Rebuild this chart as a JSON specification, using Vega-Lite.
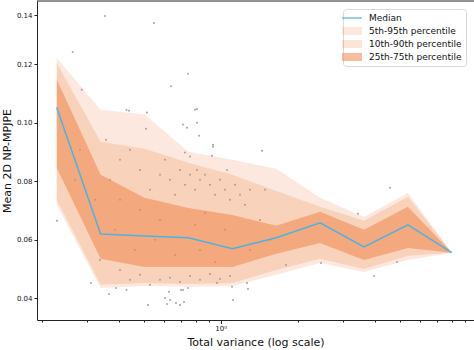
{
  "$schema": "https://vega.github.io/schema/vega-lite/v6.json",
  "width": 437,
  "height": 319,
  "autosize": {"type": "none"},
  "padding": {"left": 37, "top": 1, "right": 0, "bottom": 30},
  "background": "white",
  "config": {
    "view": {"stroke": null},
    "font": "DejaVu Sans",
    "axis": {"grid": false, "domainColor": "#222", "tickColor": "#222", "labelColor": "#111", "titleColor": "#111", "labelFont": "DejaVu Sans", "titleFont": "DejaVu Sans", "titleFontWeight": "normal"}
  },
  "datasets": {
    "points": [
      {"variance": 0.3532, "mpjpe": 0.1396}, {"variance": 0.5488, "mpjpe": 0.1368}, {"variance": 0.2642, "mpjpe": 0.1250},
      {"variance": 0.2864, "mpjpe": 0.1113}, {"variance": 0.4383, "mpjpe": 0.1041}, {"variance": 0.4285, "mpjpe": 0.1045},
      {"variance": 0.515, "mpjpe": 0.1035}, {"variance": 0.3565, "mpjpe": 0.0942}, {"variance": 0.5108, "mpjpe": 0.0980},
      {"variance": 0.2293, "mpjpe": 0.0665}, {"variance": 0.3113, "mpjpe": 0.0452}, {"variance": 0.3662, "mpjpe": 0.0415},
      {"variance": 0.3899, "mpjpe": 0.0435}, {"variance": 0.4285, "mpjpe": 0.0428}, {"variance": 0.52, "mpjpe": 0.0377},
      {"variance": 0.7453, "mpjpe": 0.1168}, {"variance": 0.6395, "mpjpe": 0.1125}, {"variance": 0.7937, "mpjpe": 0.1045},
      {"variance": 0.8081, "mpjpe": 0.1047}, {"variance": 0.7124, "mpjpe": 0.0994}, {"variance": 0.738, "mpjpe": 0.0983},
      {"variance": 0.8081, "mpjpe": 0.1000}, {"variance": 0.8228, "mpjpe": 0.0956}, {"variance": 0.9331, "mpjpe": 0.0925},
      {"variance": 0.9331, "mpjpe": 0.0918}, {"variance": 0.9247, "mpjpe": 0.0887}, {"variance": 1.45, "mpjpe": 0.0904},
      {"variance": 0.7253, "mpjpe": 0.0898}, {"variance": 0.7588, "mpjpe": 0.0885}, {"variance": 0.8081, "mpjpe": 0.0839},
      {"variance": 1.0583, "mpjpe": 0.0839}, {"variance": 0.6059, "mpjpe": 0.0401}, {"variance": 0.6169, "mpjpe": 0.0380},
      {"variance": 0.6339, "mpjpe": 0.0394}, {"variance": 0.6688, "mpjpe": 0.0384}, {"variance": 0.6934, "mpjpe": 0.0377},
      {"variance": 0.7188, "mpjpe": 0.0387}, {"variance": 0.6998, "mpjpe": 0.0428}, {"variance": 0.6281, "mpjpe": 0.0422},
      {"variance": 1.117, "mpjpe": 0.0394}, {"variance": 1.1069, "mpjpe": 0.0439}, {"variance": 1.2667, "mpjpe": 0.0452},
      {"variance": 1.278, "mpjpe": 0.0432}, {"variance": 1.7992, "mpjpe": 0.0514}, {"variance": 2.4651, "mpjpe": 0.0521},
      {"variance": 3.9701, "mpjpe": 0.0476}, {"variance": 4.8831, "mpjpe": 0.0524}, {"variance": 4.5847, "mpjpe": 0.0778},
      {"variance": 3.4392, "mpjpe": 0.0689}, {"variance": 0.9672, "mpjpe": 0.0452}, {"variance": 0.7453, "mpjpe": 0.0435},
      {"variance": 0.7124, "mpjpe": 0.0428},
      {"variance": 0.3228, "mpjpe": 0.0737}, {"variance": 0.3695, "mpjpe": 0.0805}, {"variance": 0.4042, "mpjpe": 0.0874},
      {"variance": 0.4420, "mpjpe": 0.0908}, {"variance": 0.4839, "mpjpe": 0.0839}, {"variance": 0.5293, "mpjpe": 0.0771},
      {"variance": 0.5792, "mpjpe": 0.0822}, {"variance": 0.6059, "mpjpe": 0.0874}, {"variance": 0.6339, "mpjpe": 0.0805},
      {"variance": 0.6630, "mpjpe": 0.0754}, {"variance": 0.6934, "mpjpe": 0.0839}, {"variance": 0.7253, "mpjpe": 0.0788},
      {"variance": 0.7588, "mpjpe": 0.0822}, {"variance": 0.7937, "mpjpe": 0.0771}, {"variance": 0.8301, "mpjpe": 0.0805},
      {"variance": 0.8686, "mpjpe": 0.0822}, {"variance": 0.9083, "mpjpe": 0.0788}, {"variance": 0.9500, "mpjpe": 0.0754},
      {"variance": 0.9938, "mpjpe": 0.0805}, {"variance": 1.0394, "mpjpe": 0.0771}, {"variance": 1.0872, "mpjpe": 0.0737},
      {"variance": 1.1373, "mpjpe": 0.0788}, {"variance": 1.1897, "mpjpe": 0.0754}, {"variance": 1.2444, "mpjpe": 0.0720},
      {"variance": 1.3017, "mpjpe": 0.0771}, {"variance": 0.4042, "mpjpe": 0.0497}, {"variance": 0.4420, "mpjpe": 0.0463},
      {"variance": 0.4839, "mpjpe": 0.0480}, {"variance": 0.5293, "mpjpe": 0.0446}, {"variance": 0.5792, "mpjpe": 0.0463},
      {"variance": 0.6339, "mpjpe": 0.0470}, {"variance": 0.6934, "mpjpe": 0.0456}, {"variance": 0.7588, "mpjpe": 0.0476},
      {"variance": 0.8301, "mpjpe": 0.0463}, {"variance": 0.9083, "mpjpe": 0.0483}, {"variance": 0.9938, "mpjpe": 0.0466},
      {"variance": 1.0872, "mpjpe": 0.0476}, {"variance": 0.3864, "mpjpe": 0.0634}, {"variance": 0.4623, "mpjpe": 0.0565},
      {"variance": 0.5537, "mpjpe": 0.0600}, {"variance": 0.6630, "mpjpe": 0.0548}, {"variance": 0.7937, "mpjpe": 0.0651},
      {"variance": 0.9500, "mpjpe": 0.0524}, {"variance": 0.5792, "mpjpe": 0.0668}, {"variance": 0.4839, "mpjpe": 0.0702},
      {"variance": 0.8301, "mpjpe": 0.0565}, {"variance": 0.8686, "mpjpe": 0.0692}, {"variance": 1.0394, "mpjpe": 0.0634},
      {"variance": 1.3017, "mpjpe": 0.0565}, {"variance": 1.4237, "mpjpe": 0.0668}, {"variance": 1.5577, "mpjpe": 0.0600},
      {"variance": 1.4894, "mpjpe": 0.0771}, {"variance": 0.3377, "mpjpe": 0.0531}, {"variance": 0.2821, "mpjpe": 0.0908},
      {"variance": 0.2697, "mpjpe": 0.0805}, {"variance": 0.4042, "mpjpe": 0.0737}
    ],
    "bands": [
      {"series": "5th-95th percentile", "variance": 0.2288, "lo": 0.0720, "hi": 0.1226},
      {"series": "5th-95th percentile", "variance": 0.3396, "lo": 0.0435, "hi": 0.1045},
      {"series": "5th-95th percentile", "variance": 0.5040, "lo": 0.0442, "hi": 0.1028},
      {"series": "5th-95th percentile", "variance": 0.7478, "lo": 0.0439, "hi": 0.0901},
      {"series": "5th-95th percentile", "variance": 1.110, "lo": 0.0442, "hi": 0.0874},
      {"series": "5th-95th percentile", "variance": 1.648, "lo": 0.0480, "hi": 0.0843},
      {"series": "5th-95th percentile", "variance": 2.445, "lo": 0.0521, "hi": 0.0744},
      {"series": "5th-95th percentile", "variance": 3.629, "lo": 0.0490, "hi": 0.0678},
      {"series": "5th-95th percentile", "variance": 5.387, "lo": 0.0531, "hi": 0.0761},
      {"series": "5th-95th percentile", "variance": 7.995, "lo": 0.0556, "hi": 0.0556},
      {"series": "10th-90th percentile", "variance": 0.2288, "lo": 0.0737, "hi": 0.1205},
      {"series": "10th-90th percentile", "variance": 0.3396, "lo": 0.0446, "hi": 0.0935},
      {"series": "10th-90th percentile", "variance": 0.5040, "lo": 0.0452, "hi": 0.0911},
      {"series": "10th-90th percentile", "variance": 0.7478, "lo": 0.0449, "hi": 0.0863},
      {"series": "10th-90th percentile", "variance": 1.110, "lo": 0.0452, "hi": 0.0822},
      {"series": "10th-90th percentile", "variance": 1.648, "lo": 0.0497, "hi": 0.0767},
      {"series": "10th-90th percentile", "variance": 2.445, "lo": 0.0535, "hi": 0.0713},
      {"series": "10th-90th percentile", "variance": 3.629, "lo": 0.0500, "hi": 0.0665},
      {"series": "10th-90th percentile", "variance": 5.387, "lo": 0.0545, "hi": 0.0747},
      {"series": "10th-90th percentile", "variance": 7.995, "lo": 0.0556, "hi": 0.0556},
      {"series": "25th-75th percentile", "variance": 0.2288, "lo": 0.0846, "hi": 0.1148},
      {"series": "25th-75th percentile", "variance": 0.3396, "lo": 0.0535, "hi": 0.0822},
      {"series": "25th-75th percentile", "variance": 0.5040, "lo": 0.0507, "hi": 0.0744},
      {"series": "25th-75th percentile", "variance": 0.7478, "lo": 0.0507, "hi": 0.0709},
      {"series": "25th-75th percentile", "variance": 1.110, "lo": 0.0507, "hi": 0.0685},
      {"series": "25th-75th percentile", "variance": 1.648, "lo": 0.0552, "hi": 0.0648},
      {"series": "25th-75th percentile", "variance": 2.445, "lo": 0.0589, "hi": 0.0696},
      {"series": "25th-75th percentile", "variance": 3.629, "lo": 0.0531, "hi": 0.0634},
      {"series": "25th-75th percentile", "variance": 5.387, "lo": 0.0572, "hi": 0.0713},
      {"series": "25th-75th percentile", "variance": 7.995, "lo": 0.0556, "hi": 0.0556}
    ],
    "median": [
      {"variance": 0.2288, "mpjpe": 0.1052},
      {"variance": 0.3396, "mpjpe": 0.0620},
      {"variance": 0.5040, "mpjpe": 0.0613},
      {"variance": 0.7478, "mpjpe": 0.0607},
      {"variance": 1.110, "mpjpe": 0.0569},
      {"variance": 1.648, "mpjpe": 0.0607},
      {"variance": 2.445, "mpjpe": 0.0658},
      {"variance": 3.629, "mpjpe": 0.0576},
      {"variance": 5.387, "mpjpe": 0.0651},
      {"variance": 7.995, "mpjpe": 0.0556}
    ]
  },
  "layer": [
    {
      "data": {"name": "points"},
      "mark": {"type": "circle", "size": 4, "color": "#8c8c8c", "opacity": 0.8},
      "encoding": {
        "x": {
          "field": "variance", "type": "quantitative",
          "scale": {"type": "log", "domain": [0.1916, 9.761], "nice": false},
          "axis": {
            "title": "Total variance (log scale)", "titleFontSize": 11, "titlePadding": 5,
            "values": [0.2, 0.3, 0.4, 0.5, 0.6, 0.7, 0.8, 0.9, 1, 2, 3, 4, 5, 6, 7, 8, 9],
            "labelExpr": "datum.value == 1 ? '10⁰' : ''",
            "labelFontSize": 7, "labelPadding": 1, "labelOverlap": false, "labelFlush": false,
            "tickSize": {"condition": {"test": "datum.value == 1", "value": 3.5}, "value": 2}
          }
        },
        "y": {
          "field": "mpjpe", "type": "quantitative",
          "scale": {"domain": [0.03257, 0.12, 0.1457], "range": [319, 63.3, 0], "nice": false, "zero": false},
          "axis": {
            "title": "Mean 2D NP-MPJPE", "titleFontSize": 11, "titlePadding": 4,
            "values": [0.04, 0.06, 0.08, 0.10, 0.12, 0.14], "format": ".2f",
            "labelFontSize": 7, "labelPadding": 2, "tickSize": 3
          }
        }
      }
    },
    {
      "data": {"name": "bands"},
      "mark": {"type": "area", "opacity": 1},
      "encoding": {
        "x": {"field": "variance", "type": "quantitative"},
        "y": {"field": "lo", "type": "quantitative", "stack": null},
        "y2": {"field": "hi"},
        "color": {
          "field": "series", "type": "nominal",
          "scale": {
            "domain": ["Median", "5th-95th percentile", "10th-90th percentile", "25th-75th percentile"],
            "range": ["#4bb3e3", "rgba(240,130,70,0.18)", "rgba(240,130,70,0.22)", "rgba(240,130,70,0.53)"]
          },
          "legend": {
            "title": null, "orient": "top-right", "offset": 8,
            "symbolSize": 100, "symbolType": "M-2,-0.8H2V0.8H-2Z", "symbolStrokeWidth": 0,
            "labelFontSize": 9, "labelOffset": 12, "rowPadding": 3, "padding": 4,
            "strokeColor": "#d9d9d9", "fillColor": "white", "cornerRadius": 3, "labelColor": "#111",
            "encoding": {
              "symbols": {
                "shape": {"value": {"expr": "datum.value === 'Median' ? 'M-2,-0.12H2V0.12H-2Z' : 'M-2,-0.8H2V0.8H-2Z'"}},
                "fill": {"value": {"expr": "scale('color', datum.value)"}},
                "stroke": {"value": "transparent"},
                "opacity": {"value": 1}
              }
            }
          }
        }
      }
    },
    {
      "data": {"name": "median"},
      "mark": {"type": "line", "strokeWidth": 1.5},
      "encoding": {
        "x": {"field": "variance", "type": "quantitative"},
        "y": {"field": "mpjpe", "type": "quantitative"},
        "color": {"datum": "Median"}
      }
    },
    {
      "data": {"values": [{}]},
      "mark": {"type": "rule", "color": "#222", "strokeWidth": 1},
      "encoding": {"y": {"datum": 0.1457}}
    }
  ]
}
